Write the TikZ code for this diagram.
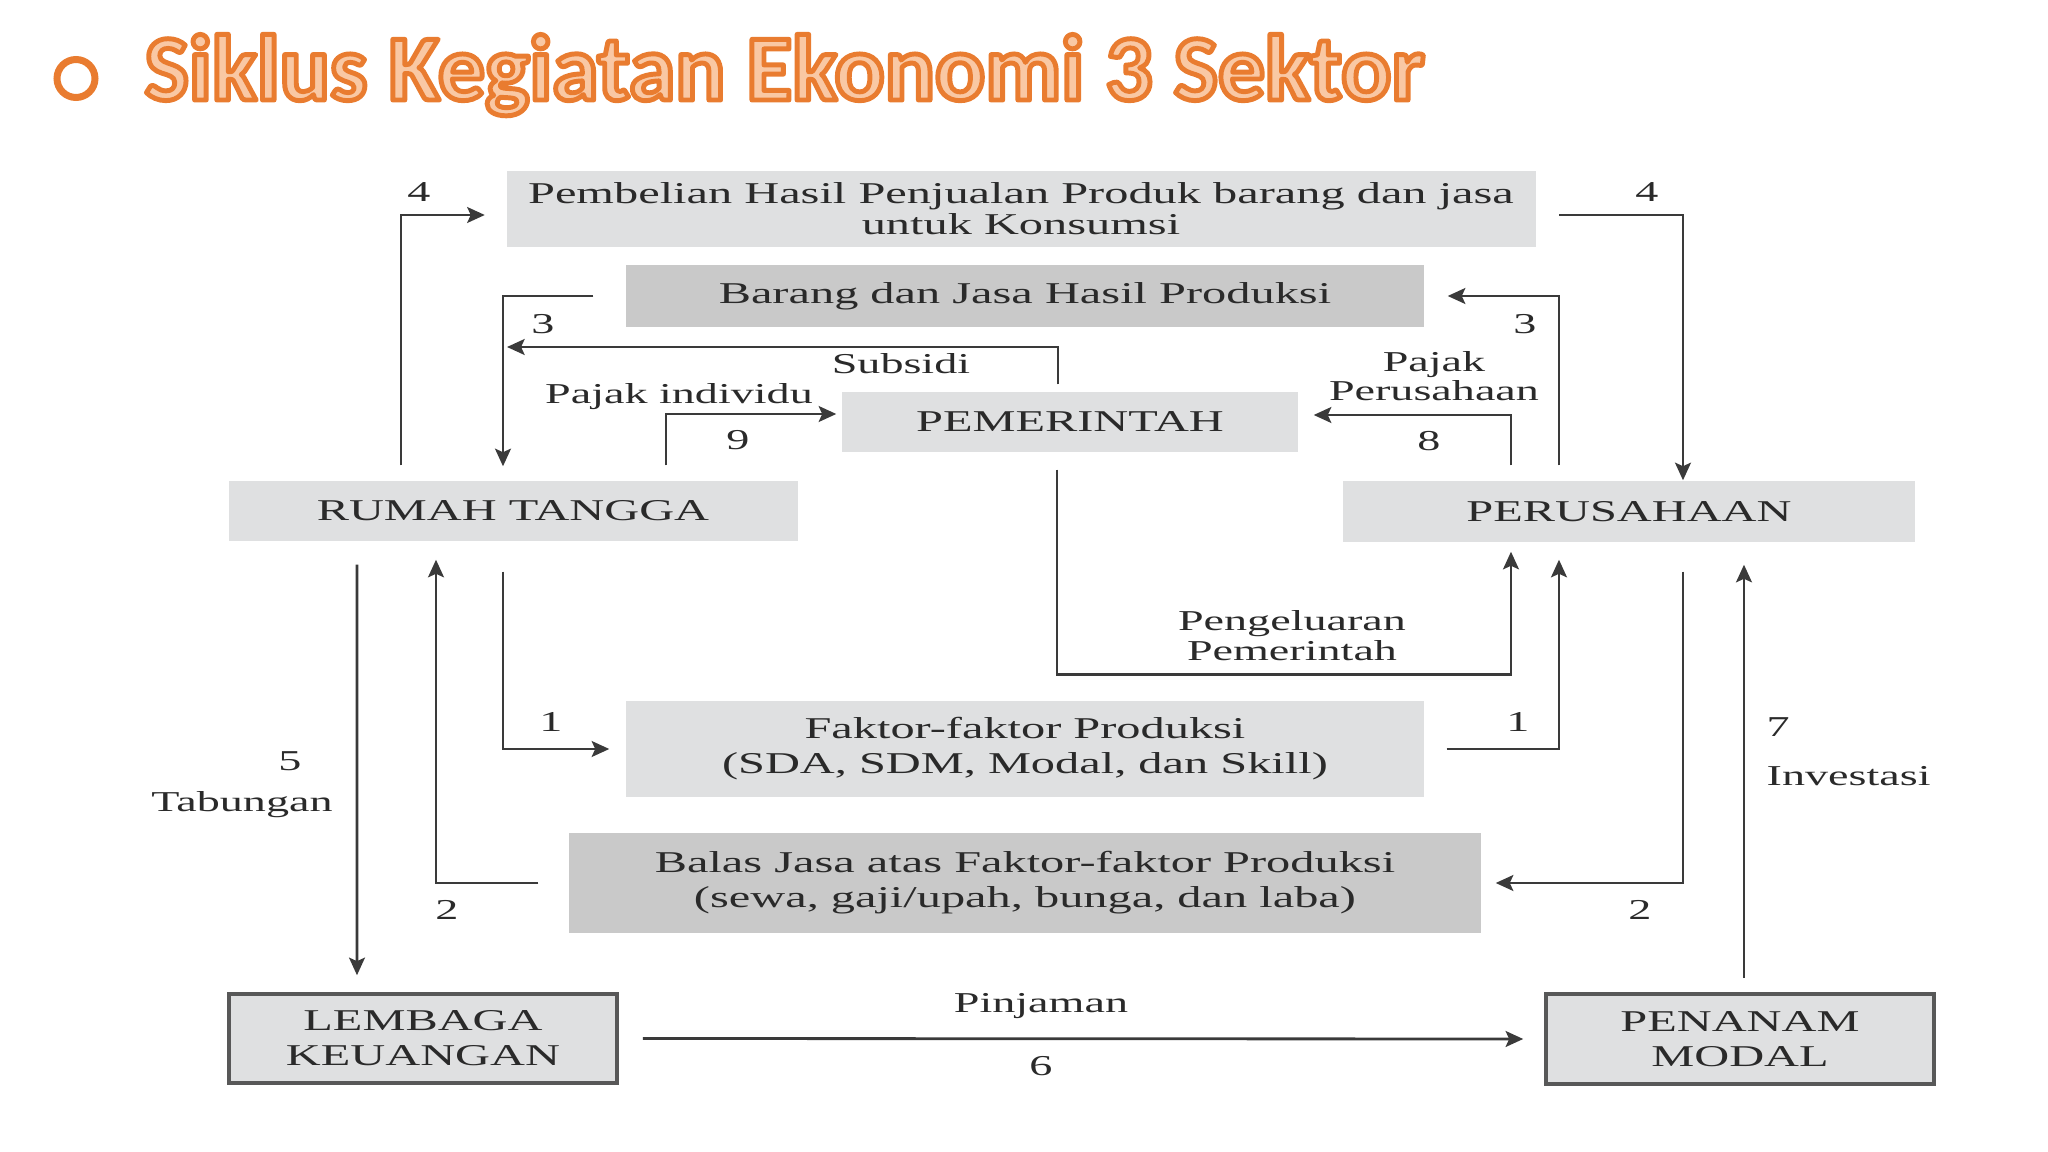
\documentclass[tikz,border=0pt]{standalone}
\usepackage{fontspec}
\usepackage{xcolor}
\usepackage{tikz}
\usetikzlibrary{arrows.meta}

\setmainfont{Liberation Serif}[FakeStretch=1.6]
\newfontfamily\titlefont{Carlito}

\definecolor{boxgray}{HTML}{DFE0E1}
\definecolor{boxdark}{HTML}{C9C9C9}
\definecolor{linegray}{HTML}{3A3A3A}
\definecolor{txtgray}{HTML}{2A2A2A}
\definecolor{ttlorange}{HTML}{E97C30}
\definecolor{ttlfill}{HTML}{F9C8A4}

% outlined title text: pale fill, orange stroke
\newcommand{\outlined}[1]{\textcolor{ttlfill}{%
  \special{pdf:literal direct 1.4 w 1 j 0.914 0.486 0.188 RG 2 Tr}#1%
  \special{pdf:literal direct 0 Tr}}}

\begin{document}
\begin{tikzpicture}[x=1cm, y=1cm,
  box/.style={fill=boxgray, text=txtgray, align=center, inner sep=0,
    font=\fontsize{8.6}{10}\selectfont},
  darkbox/.style={box, fill=boxdark},
  framebox/.style={box, draw=linegray!85, line width=1pt},
  lbl/.style={text=txtgray, align=center, inner sep=0,
    font=\fontsize{8.2}{7.4}\selectfont},
  arr/.style={draw=linegray, line width=0.8pt,
    -{Stealth[length=5pt, width=4.5pt, inset=1pt]}},
  line/.style={draw=linegray, line width=0.8pt}]

  \useasboundingbox (0,0) rectangle (20.48,-11.52);

  % Title
  \draw[ttlorange, line width=0.07cm] (0.76,-0.785) circle (0.19);
  \node[anchor=base west, inner sep=0] (judul) at (1.44,-1.00)
    {\titlefont\bfseries\fontsize{26.6}{30}\selectfont
     \outlined{Siklus Kegiatan Ekonomi 3 Sektor}};

  % Boxes
  \node[box, minimum width=10.29cm, minimum height=0.76cm,
    font=\fontsize{8.6}{7.8}\selectfont] (beli) at (10.21,-2.09)
    {Pembelian Hasil Penjualan Produk barang dan jasa\\untuk Konsumsi};
  \node[darkbox, minimum width=7.98cm, minimum height=0.62cm] (barang) at (10.25,-2.96)
    {Barang dan Jasa Hasil Produksi};
  \node[box, minimum width=4.56cm, minimum height=0.60cm] (pem) at (10.70,-4.22)
    {PEMERINTAH};
  \node[box, minimum width=5.69cm, minimum height=0.60cm] (rt) at (5.13,-5.11)
    {RUMAH TANGGA};
  \node[box, minimum width=5.72cm, minimum height=0.61cm] (pr) at (16.29,-5.115)
    {PERUSAHAAN};
  \node[box, minimum width=7.98cm, minimum height=0.96cm] (faktor) at (10.25,-7.49)
    {Faktor-faktor Produksi\\(SDA, SDM, Modal, dan Skill)};
  \node[darkbox, minimum width=9.12cm, minimum height=1.00cm] (balas) at (10.25,-8.83)
    {Balas Jasa atas Faktor-faktor Produksi\\(sewa, gaji/upah, bunga, dan laba)};
  \node[framebox, minimum width=3.88cm, minimum height=0.89cm] (lk) at (4.23,-10.385)
    {LEMBAGA\\KEUANGAN};
  \node[framebox, minimum width=3.88cm, minimum height=0.90cm] (pm) at (17.40,-10.39)
    {PENANAM\\MODAL};

  % Flows 4 and 3
  \draw[arr] ([shift={(-1.12,0.15)}]rt.north) |- ([shift={(-0.21,-0.06)}]beli.west);
  \draw[arr] ([shift={(0.23,-0.06)}]beli.east) -| ([xshift=5.4mm]pr.north);
  \draw[arr] ([shift={(-0.70,0.15)}]pr.north) |- ([xshift=2.3mm]barang.east);
  \draw[arr] ([xshift=-3.2mm]barang.west) -| ([shift={(-0.10,0.14)}]rt.north);

  % Government
  \coordinate (subend) at (5.07,-3.47);
  \draw[arr] ([shift={(-0.12,0.07)}]pem.north) |- (subend);
  \draw[arr] ([shift={(1.53,0.15)}]rt.north) |- ([shift={(-0.05,0.08)}]pem.west);
  \draw[arr] ([shift={(-1.18,0.15)}]pr.north) |- ([shift={(0.15,0.07)}]pem.east);
  \draw[arr] ([shift={(-0.13,-0.17)}]pem.south) -- ++(0,-2.05)
    -| ([shift={(-1.18,-0.09)}]pr.south);

  % Flows 1 and 2
  \draw[arr] ([shift={(-0.10,-0.30)}]rt.south) |- ([xshift=-1.6mm]faktor.west);
  \draw[arr] ([xshift=2.2mm]faktor.east) -| ([shift={(-0.70,-0.17)}]pr.south);
  \draw[arr] ([shift={(0.54,-0.29)}]pr.south) |- ([xshift=1.4mm]balas.east);
  \draw[arr] ([xshift=-3mm]balas.west) -| ([shift={(-0.77,-0.18)}]rt.south);

  % Flows 5, 6, 7
  \draw[arr] ([shift={(-1.56,-0.23)}]rt.south) -- ([shift={(-0.66,0.17)}]lk.north);
  \draw[arr] ([xshift=2.4mm]lk.east) -- ([xshift=-2.1mm]pm.west);
  \draw[arr] ([shift={(0.04,0.14)}]pm.north) -- ([shift={(1.15,-0.22)}]pr.south);

  % Labels
  \node[lbl] (n4a) at (4.19,-1.92) {4};
  \node[lbl] (n4b) at (16.47,-1.92) {4};
  \node[lbl] (n3a) at (5.43,-3.24) {3};
  \node[lbl] (n3b) at (15.25,-3.24) {3};
  \node[lbl] (subsidi) at (9.01,-3.64) {Subsidi};
  \node[lbl] (pjind) at (6.79,-3.97) {Pajak individu};
  \node[lbl] (n9) at (7.38,-4.40) {9};
  \node[lbl] (pjprs) at (14.34,-3.76) {Pajak\\Perusahaan};
  \node[lbl] (n8) at (14.29,-4.41) {8};
  \node[lbl] (pengel) at (12.92,-6.36) {Pengeluaran\\Pemerintah};
  \node[lbl] (n1a) at (5.51,-7.22) {1};
  \node[lbl] (n1b) at (15.18,-7.22) {1};
  \node[lbl] (n2a) at (4.47,-9.10) {2};
  \node[lbl] (n2b) at (16.40,-9.10) {2};
  \node[lbl] (n5) at (2.90,-7.61) {5};
  \node[lbl] (tabungan) at (2.42,-8.05) {Tabungan};
  \node[lbl] (pinjaman) at (10.41,-10.06) {Pinjaman};
  \node[lbl] (n6) at (10.41,-10.66) {6};
  \node[lbl, anchor=west] (n7) at (17.66,-7.27) {7};
  \node[lbl, anchor=west] (investasi) at (17.66,-7.76) {Investasi};
\end{tikzpicture}
\end{document}
